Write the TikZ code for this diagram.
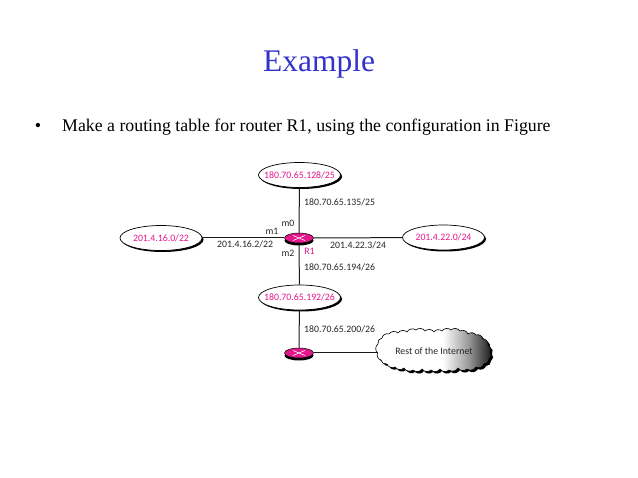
\documentclass[tikz,border=0pt]{standalone}
\usepackage{xcolor}
\usepackage{fontspec}
\setmainfont{Liberation Serif}
\newfontfamily\netfont{Carlito}
\usepackage{tikz}
\usetikzlibrary{shapes.geometric,shadows}
\definecolor{titleblue}{HTML}{3333CC}
\definecolor{netpink}{HTML}{E5178C}
\pgfdeclarehorizontalshading{cloudfade}{100bp}{color(0bp)=(white); color(54bp)=(white); color(65bp)=(black!40); color(75bp)=(black!90); color(100bp)=(black)}
\newcommand{\netlabel}[1]{\makebox[0pt]{#1}}
\tikzset{
    netnode/.style={ellipse,draw=black,fill=white,line width=0.7pt,inner sep=0pt,minimum width=82pt,minimum height=25pt,
        text=netpink,font=\netfont\fontsize{9.8}{12}\selectfont,
        drop shadow={shadow xshift=1.5pt,shadow yshift=-1.5pt,fill=black,opacity=1}},
    routernode/.style={ellipse,draw=black,fill=netpink,line width=0.5pt,inner sep=0pt,minimum width=29pt,minimum height=10pt,
        drop shadow={shadow xshift=0pt,shadow yshift=-2.5pt,fill=black,opacity=1},
        path picture={
            \draw[white,line width=0.6pt] ([xshift=-6pt,yshift=2.5pt]path picture bounding box.center) -- ([xshift=6pt,yshift=-2.5pt]path picture bounding box.center);
            \draw[white,line width=0.6pt] ([xshift=-6pt,yshift=-2.5pt]path picture bounding box.center) -- ([xshift=6pt,yshift=2.5pt]path picture bounding box.center);
        }},
    cloudpath/.style={draw=black,line width=0.6pt,shading=cloudfade,
        drop shadow={shadow xshift=2pt,shadow yshift=-2pt,fill=black,opacity=1}},
    addr/.style={inner sep=0pt,font=\netfont\fontsize{9.8}{12}\selectfont,text=black!85},
    link/.style={line width=1pt,black!90}
}
\begin{document}
\begin{tikzpicture}[x=1pt,y=-1pt]
\useasboundingbox (0,0) rectangle (638,478);

\node[inner sep=0pt,text=titleblue,font=\fontsize{31.5}{36}\selectfont](title) at (319,64){Example};
\node[inner sep=0pt,font=\fontsize{18}{22}\selectfont](bullet) at (38,127.5){\textbullet};
\node[inner sep=0pt,anchor=west,font=\fontsize{17.8}{22}\selectfont](task) at (62,127.5){Make a routing table for router R1, using the configuration in Figure};

\node[routernode](Rone) at (299,238){};
\node[routernode](Rtwo) at (299,353){};
\node[netnode](NetTop) at (299.5,175){\netlabel{180.70.65.128/25}};
\node[netnode](NetLeft) at (161,238){\netlabel{201.4.16.0/22}};
\node[netnode](NetRight) at (443.5,237.5){\netlabel{201.4.22.0/24}};
\node[netnode](NetMid) at (299.5,297.5){\netlabel{180.70.65.192/26}};

% cloud outline
\draw[cloudpath] (377.5,353)
\foreach \px/\py in {378/344,382/338,389/334,398/333,407/332,416/330,425/331,434/332,442/331,451/330,460/331,468/334,476/335,483/339,488/345,490/352,489/359,484/364,476/367,467/369,458/368,449/370,440/369,431/370,422/369,413/370,404/368,395/367,387/364,381/360,377.5/353}
{to[bend left=50] (\px,\py)} -- cycle;
\coordinate (Net) at (377.5,353);
\node[addr] (NetText) at (434,351){Rest of the Internet};

\path[link]
(NetTop) edge (Rone)
(NetLeft) edge (Rone)
(Rone) edge (NetRight)
(Rone) edge[shorten <=2pt] (NetMid)
(NetMid) edge (Rtwo)
(Rtwo) edge (Net);

\node[addr,anchor=west] (LabTop) at (304,202){180.70.65.135/25};
\node[addr] (LabMzero) at (288,223){m0};
\node[addr] (LabMone) at (272,231){m1};
\node[addr] (LabMtwo) at (288,253){m2};
\node[addr,text=netpink] (LabRone) at (309.5,251){R1};
\node[addr,anchor=west] (LabLeft) at (217,244.5){201.4.16.2/22};
\node[addr,anchor=west] (LabRight) at (330,245){201.4.22.3/24};
\node[addr,anchor=west] (LabMid) at (304,267){180.70.65.194/26};
\node[addr,anchor=west] (LabLow) at (304,329){180.70.65.200/26};

\end{tikzpicture}
\end{document}
